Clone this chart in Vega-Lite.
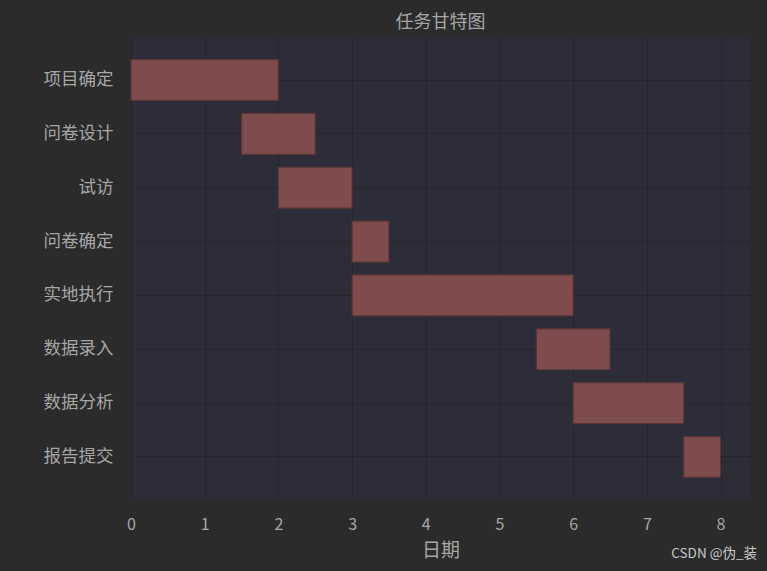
{
  "$schema": "https://vega.github.io/schema/vega-lite/v6.json",
  "width": 619,
  "height": 461,
  "autosize": "none",
  "padding": {"left": 131, "top": 38, "right": 17, "bottom": 72},
  "background": "#2b2b2b",
  "title": {
    "text": "任务甘特图",
    "fontSize": 18,
    "font": "Noto Sans CJK SC",
    "fontWeight": "normal",
    "color": "#a6a6a6",
    "anchor": "middle",
    "offset": 6
  },
  "config": {
    "view": {"fill": "#2d2d3a", "stroke": null},
    "axis": {
      "labelFont": "Noto Sans CJK SC",
      "titleFont": "Noto Sans CJK SC",
      "labelColor": "#a6a6a6",
      "titleColor": "#a6a6a6",
      "gridColor": "#25252c",
      "gridWidth": 1,
      "domain": false,
      "ticks": false
    }
  },
  "data": {
    "values": [
      {"task": "项目确定", "start": 0, "end": 2},
      {"task": "问卷设计", "start": 1.5, "end": 2.5},
      {"task": "试访", "start": 2, "end": 3},
      {"task": "问卷确定", "start": 3, "end": 3.5},
      {"task": "实地执行", "start": 3, "end": 6},
      {"task": "数据录入", "start": 5.5, "end": 6.5},
      {"task": "数据分析", "start": 6, "end": 7.5},
      {"task": "报告提交", "start": 7.5, "end": 8}
    ]
  },
  "layer": [
    {
      "mark": {"type": "bar", "fill": "#7e4c4d", "stroke": "#5a3434", "strokeWidth": 1.2},
      "encoding": {
        "y": {
          "field": "task",
          "type": "nominal",
          "sort": null,
          "title": null,
          "scale": {"paddingInner": 0.24, "paddingOuter": 0.4},
          "axis": {"labelFontSize": 17.5, "labelPadding": 18, "grid": true, "bandPosition": 0.5}
        },
        "x": {
          "field": "start",
          "type": "quantitative",
          "scale": {"domain": [0, 8.4], "nice": false},
          "title": "日期",
          "axis": {"values": [0, 1, 2, 3, 4, 5, 6, 7, 8], "format": "d", "labelFlush": false, "labelFontSize": 16, "labelPadding": 17, "titleFontSize": 19, "titlePadding": 9, "titleFontWeight": "normal", "grid": true}
        },
        "x2": {"field": "end"}
      }
    },
    {
      "data": {"values": [{"label": "CSDN @伪_装", "x": 8.4, "task": "报告提交"}]},
      "mark": {"type": "text", "align": "right", "baseline": "middle", "dx": 7, "dy": 97, "fontSize": 13.5, "font": "Noto Sans CJK SC", "color": "#c8c8c8"},
      "encoding": {
        "x": {"field": "x", "type": "quantitative"},
        "y": {"field": "task", "type": "nominal", "sort": null},
        "text": {"field": "label"}
      }
    }
  ]
}
